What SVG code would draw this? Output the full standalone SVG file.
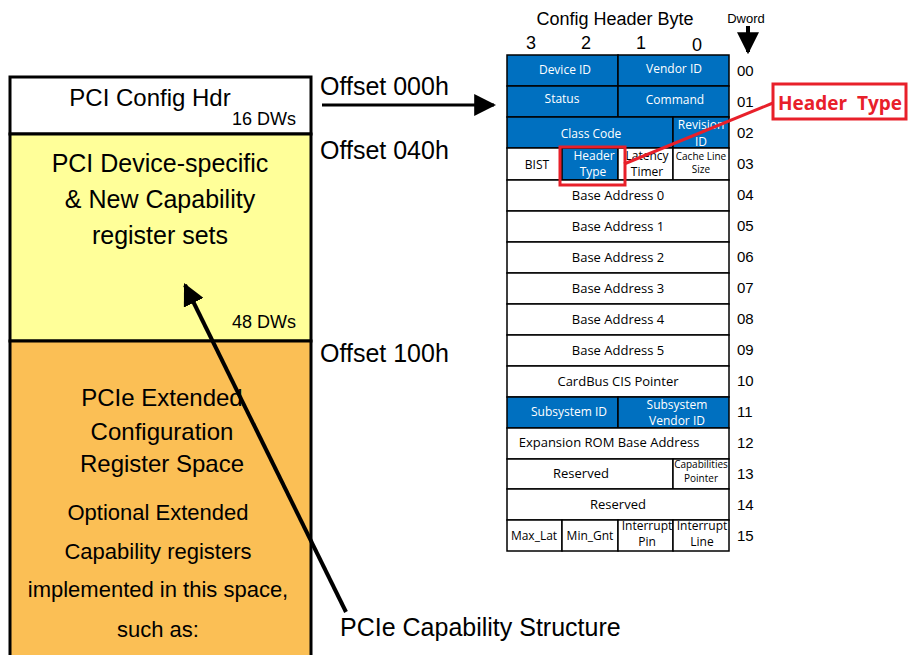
<svg xmlns="http://www.w3.org/2000/svg" width="913" height="655" viewBox="0 0 913 655">
<style>
.t{font-family:"Liberation Sans",Arial,sans-serif;fill:#000}
.c{font-family:"Open Sans","Liberation Sans",sans-serif;font-size:12px;text-anchor:middle}
.l{font-size:13px}
.cb{fill:#0070c0;stroke:#000;stroke-width:1.5}
.cw{fill:#fff;stroke:#000;stroke-width:1.5}
.num{font-family:"Liberation Sans",Arial,sans-serif;font-size:15px}
</style>
<defs>
<marker id="bh" viewBox="0 0 10 10" markerWidth="22" markerHeight="22" refX="9" refY="5" orient="auto" markerUnits="userSpaceOnUse"><path d="M0,0 L10,5 L0,10 Z"/></marker>
</defs>
<rect width="913" height="655" fill="#fff"/>
<g id="left">
<rect x="10" y="77" width="301" height="57" fill="#fff" stroke="#000" stroke-width="3"/>
<rect x="10" y="134" width="301" height="207" fill="#ffff99" stroke="#000" stroke-width="3"/>
<rect x="10" y="341" width="301" height="320" fill="#fbbf55" stroke="#000" stroke-width="3"/>
<text class="t" x="150" y="106" font-size="24" text-anchor="middle">PCI Config Hdr</text>
<text class="t" x="296" y="125" font-size="18" text-anchor="end">16 DWs</text>
<text class="t" x="160" y="172" font-size="25" text-anchor="middle">PCI Device-specific</text>
<text class="t" x="160" y="208" font-size="25" text-anchor="middle">&amp; New Capability</text>
<text class="t" x="160" y="244" font-size="25" text-anchor="middle">register sets</text>
<text class="t" x="296" y="328" font-size="18" text-anchor="end">48 DWs</text>
<text class="t" x="162" y="406" font-size="24" text-anchor="middle">PCIe Extended</text>
<text class="t" x="162" y="440" font-size="24" text-anchor="middle">Configuration</text>
<text class="t" x="162" y="472" font-size="24" text-anchor="middle">Register Space</text>
<text class="t" x="158" y="520" font-size="22" text-anchor="middle">Optional Extended</text>
<text class="t" x="158" y="559" font-size="22" text-anchor="middle">Capability registers</text>
<text class="t" x="158" y="597" font-size="22" text-anchor="middle">implemented in this space,</text>
<text class="t" x="158" y="637" font-size="22" text-anchor="middle">such as:</text>
</g>
<g id="labels">
<text class="t" x="320" y="95" font-size="25">Offset 000h</text>
<text class="t" x="320" y="159" font-size="25">Offset 040h</text>
<text class="t" x="320" y="362" font-size="25">Offset 100h</text>
<text class="t" x="340" y="636" font-size="25">PCIe Capability Structure</text>
<text class="t" x="615" y="25" font-size="18" text-anchor="middle">Config Header Byte</text>
<text class="t" x="531" y="49" font-size="18" text-anchor="middle">3</text>
<text class="t" x="586" y="49" font-size="18" text-anchor="middle">2</text>
<text class="t" x="641" y="49" font-size="18" text-anchor="middle">1</text>
<text class="t" x="697" y="51" font-size="18" text-anchor="middle">0</text>
<text class="t" x="746" y="23" font-size="13" text-anchor="middle">Dword</text>
</g>
<g id="table">
<rect class="cb" x="507" y="55" width="111" height="31"/><rect class="cb" x="618" y="55" width="111" height="31"/>
<rect class="cb" x="507" y="86" width="111" height="31"/><rect class="cb" x="618" y="86" width="111" height="31"/>
<rect class="cb" x="507" y="117" width="166" height="31"/><rect class="cb" x="673" y="117" width="56" height="31"/>
<rect class="cw" x="507" y="148" width="55" height="32"/><rect class="cb" x="562" y="148" width="56" height="32"/><rect class="cw" x="618" y="148" width="55" height="32"/><rect class="cw" x="673" y="148" width="56" height="32"/>
<rect class="cw" x="507" y="180" width="222" height="31"/>
<rect class="cw" x="507" y="211" width="222" height="31"/>
<rect class="cw" x="507" y="242" width="222" height="31"/>
<rect class="cw" x="507" y="273" width="222" height="31"/>
<rect class="cw" x="507" y="304" width="222" height="31"/>
<rect class="cw" x="507" y="335" width="222" height="31"/>
<rect class="cw" x="507" y="366" width="222" height="31"/>
<rect class="cb" x="507" y="397" width="111" height="31"/><rect class="cb" x="618" y="397" width="111" height="31"/>
<rect class="cw" x="507" y="428" width="222" height="31"/>
<rect class="cw" x="507" y="459" width="166" height="30"/><rect class="cw" x="673" y="459" width="56" height="30"/>
<rect class="cw" x="507" y="489" width="222" height="31"/>
<rect class="cw" x="507" y="520" width="55" height="31"/><rect class="cw" x="562" y="520" width="56" height="31"/><rect class="cw" x="618" y="520" width="55" height="31"/><rect class="cw" x="673" y="520" width="56" height="31"/>
<g class="c">
<text x="565" y="74" fill="#fff">Device ID</text><text x="674" y="73" fill="#fff">Vendor ID</text>
<text x="562" y="103" fill="#fff">Status</text><text x="675" y="104" fill="#fff">Command</text>
<text x="591" y="138" fill="#fff">Class Code</text>
<text x="701" y="129" fill="#fff">Revision</text><text x="701" y="146" fill="#fff">ID</text>
<text x="537" y="169">BIST</text>
<text x="594" y="160" fill="#fff">Header</text><text x="593" y="176" fill="#fff">Type</text>
<text x="647" y="160">Latency</text><text x="647" y="176">Timer</text>
<text x="701" y="160" font-size="10">Cache Line</text><text x="701" y="173" font-size="10">Size</text>
<text class="l" x="618" y="200">Base Address 0</text>
<text class="l" x="618" y="231">Base Address 1</text>
<text class="l" x="618" y="262">Base Address 2</text>
<text class="l" x="618" y="293">Base Address 3</text>
<text class="l" x="618" y="324">Base Address 4</text>
<text class="l" x="618" y="355">Base Address 5</text>
<text class="l" x="618" y="386">CardBus CIS Pointer</text>
<text x="569" y="416" fill="#fff">Subsystem ID</text>
<text x="677" y="409" fill="#fff">Subsystem</text><text x="677" y="425" fill="#fff">Vendor ID</text>
<text class="l" x="609" y="447">Expansion ROM Base Address</text>
<text class="l" x="581" y="478">Reserved</text>
<text x="701" y="468" font-size="10">Capabilities</text><text x="701" y="482" font-size="10">Pointer</text>
<text class="l" x="618" y="509">Reserved</text>
<text x="534" y="540">Max_Lat</text><text x="590" y="540">Min_Gnt</text>
<text x="647" y="530">Interrupt</text><text x="647" y="546">Pin</text>
<text x="702" y="530">Interrupt</text><text x="702" y="546">Line</text>
</g>
<g class="num">
<text x="737" y="76">00</text><text x="737" y="107">01</text><text x="737" y="138">02</text><text x="737" y="169">03</text>
<text x="737" y="200">04</text><text x="737" y="231">05</text><text x="737" y="262">06</text><text x="737" y="293">07</text>
<text x="737" y="324">08</text><text x="737" y="355">09</text><text x="737" y="386">10</text><text x="737" y="417">11</text>
<text x="737" y="448">12</text><text x="737" y="479">13</text><text x="737" y="510">14</text><text x="737" y="541">15</text>
</g>
</g>
<g id="headertype">
<rect x="560" y="147" width="65" height="38" fill="none" stroke="#e8202a" stroke-width="3"/>
<rect x="773" y="84" width="133" height="35" fill="#fff" stroke="#e8202a" stroke-width="3"/>
<text x="840" y="110" font-family="'Open Sans','Liberation Sans',sans-serif" font-weight="bold" font-size="19" fill="#e8202a" text-anchor="middle" xml:space="preserve">Header  Type</text>
</g>
<g id="connectors" stroke="#000" fill="none">
<line x1="322" y1="105" x2="494" y2="105" stroke-width="3" marker-end="url(#bh)"/>
<line x1="346" y1="612" x2="185" y2="285" stroke-width="4" marker-end="url(#bh)"/>
<line x1="748" y1="26" x2="748" y2="52" stroke-width="4" marker-end="url(#bh)"/>
<line x1="624" y1="164" x2="773" y2="103" stroke="#e8202a" stroke-width="3"/>
</g>
</svg>
